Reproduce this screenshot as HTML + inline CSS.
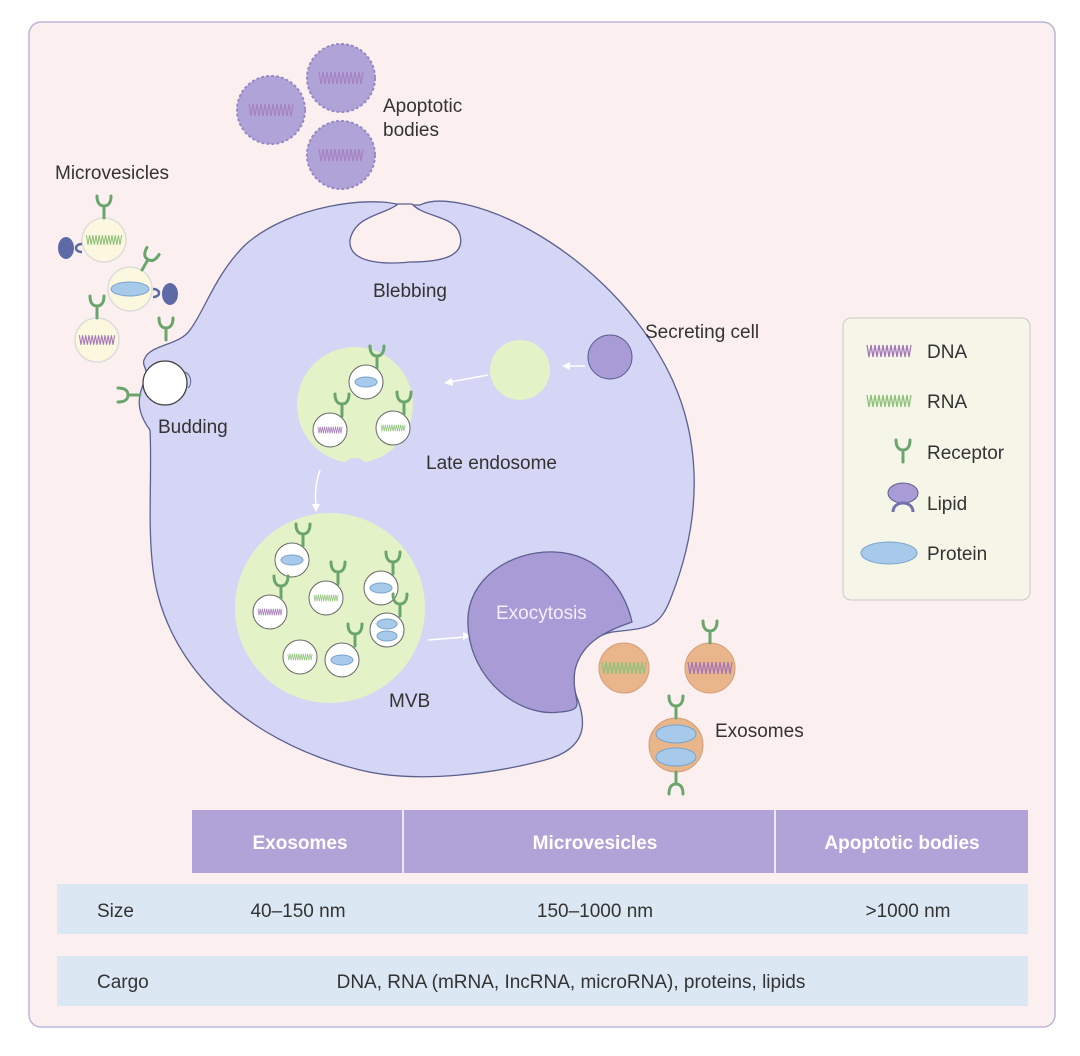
<!DOCTYPE html>
<html><head><meta charset="utf-8"><style>
body{margin:0;background:#fff;}
svg{display:block;font-family:"Liberation Sans",sans-serif;}
</style></head><body>
<svg width="1080" height="1056" viewBox="0 0 1080 1056">
<defs>
<g id="dna"><path d="M-22 -6 l2 12 l2 -12 l2 12 l2 -12 l2 12 l2 -12 l2 12 l2 -12 l2 12 l2 -12 l2 12 l2 -12 l2 12 l2 -12 l2 12 l2 -12 l2 12 l2 -12 l2 12 l2 -12 l2 12 l2 -12" fill="none" stroke="#a377b8" stroke-width="1.3"/></g>
<g id="rna"><path d="M-22 -6 l2 12 l2 -12 l2 12 l2 -12 l2 12 l2 -12 l2 12 l2 -12 l2 12 l2 -12 l2 12 l2 -12 l2 12 l2 -12 l2 12 l2 -12 l2 12 l2 -12 l2 12 l2 -12 l2 12 l2 -12" fill="none" stroke="#8fc27a" stroke-width="1.3"/></g>
<g id="rec"><path d="M0 0 V-12 M0 -12 C-6 -12 -7 -18 -7 -22 M0 -12 C6 -12 7 -18 7 -22" fill="none" stroke="#6aa56e" stroke-width="3" stroke-linecap="round"/></g>
<g id="ves"><circle r="17" fill="#fff" stroke="#666" stroke-width="1"/></g>
</defs>
<rect x="29" y="22" width="1026" height="1005" rx="12" fill="#fbf0ef" stroke="#bcb5d8" stroke-width="1.5"/>

<!-- apoptotic bodies -->
<g fill="#b0a3d8" stroke="#9688c4" stroke-width="2" stroke-dasharray="3 2">
<circle cx="271" cy="110" r="34"/><circle cx="341" cy="78" r="34"/><circle cx="341" cy="155" r="34"/>
</g>
<g opacity="0.7"><use href="#dna" x="271" y="110"/><use href="#dna" x="341" y="78"/><use href="#dna" x="341" y="155"/></g>
<text x="383" y="112" font-size="19" fill="#333">Apoptotic</text>
<text x="383" y="136" font-size="19" fill="#333">bodies</text>

<!-- cell -->
<path d="M400 205 C370 196 290 205 245 245 C215 275 205 310 190 330 C180 345 150 345 145 358 C140 365 150 370 145 380 C138 395 135 410 150 430 C152 470 148 520 152 560 C160 660 240 740 360 770 C420 785 500 772 545 760 C590 748 585 720 578 700 C568 678 575 640 612 632 C650 628 660 628 672 595 C705 510 700 430 665 365 C630 300 575 255 530 230 C485 205 440 195 420 205 Z" fill="#d5d5f5" stroke="#5c608f" stroke-width="1.3"/>
<path d="M398 204 C385 215 355 215 350 240 C348 262 380 265 410 262 C445 262 465 255 460 235 C455 215 425 218 412 204 Z" fill="#fbf0ef" stroke="#5c608f" stroke-width="1.3"/>
<text x="373" y="297" font-size="19" fill="#333">Blebbing</text>

<!-- budding -->
<circle cx="165" cy="383" r="22" fill="#fff" stroke="#444" stroke-width="1.3"/>
<path d="M185 372 C192 375 192 385 188 388" fill="none" stroke="#5c608f"/>
<use href="#rec" x="166" y="340"/>
<g transform="translate(140,395) rotate(-90)"><use href="#rec"/></g>
<text x="158" y="433" font-size="19" fill="#333">Budding</text>

<!-- microvesicles -->
<text x="55" y="179" font-size="19" fill="#333">Microvesicles</text>
<g fill="#fcf7df" stroke="#ddd" stroke-width="1.5">
<circle cx="104" cy="240" r="22"/><circle cx="130" cy="289" r="22"/><circle cx="97" cy="340" r="22"/>
</g>
<use href="#rec" x="104" y="218"/>
<g transform="translate(104,240) scale(0.8)"><use href="#rna"/></g>
<g transform="translate(97,340) scale(0.8)"><use href="#dna"/></g>
<use href="#rec" x="97" y="318"/>
<g transform="translate(142,270) rotate(30)"><use href="#rec"/></g>
<ellipse cx="130" cy="289" rx="19" ry="7" fill="#a7c9ea" stroke="#7aa3cc"/>
<ellipse cx="66" cy="248" rx="8" ry="11" fill="#5d6aa6"/><path d="M82 244 C74 244 74 252 82 252" fill="none" stroke="#5d6aa6" stroke-width="2.5"/>
<ellipse cx="170" cy="294" rx="8" ry="11" fill="#5d6aa6"/><path d="M153 289 C161 289 161 297 153 297" fill="none" stroke="#5d6aa6" stroke-width="2.5"/>

<!-- secreting -->
<circle cx="610" cy="357" r="22" fill="#a99bd6" stroke="#5c608f"/>
<text x="645" y="338" font-size="19" fill="#333">Secreting cell</text>
<circle cx="520" cy="370" r="30" fill="#e4f2c8"/>
<path d="M585 366 H567" stroke="#fff" stroke-width="1.5"/><path d="M562 366 l8 -4 v8 z" fill="#fff"/>
<path d="M488 375 L450 382" stroke="#fff" stroke-width="1.5"/><path d="M444 383 l8 -5 l1 8 z" fill="#fff"/>

<!-- late endosome -->
<circle cx="355" cy="405" r="58" fill="#e4f2c8"/>
<circle cx="355" cy="472" r="14" fill="#d5d5f5"/>
<g><use href="#ves" x="366" y="382"/><use href="#ves" x="330" y="430"/><use href="#ves" x="393" y="428"/></g>
<ellipse cx="366" cy="382" rx="11" ry="5" fill="#a7c9ea" stroke="#7aa3cc"/>
<g transform="translate(330,430) scale(0.55)"><use href="#dna"/></g>
<g transform="translate(393,428) scale(0.55)"><use href="#rna"/></g>
<use href="#rec" x="377" y="368"/>
<use href="#rec" x="342" y="416"/><use href="#rec" x="404" y="414"/>
<text x="426" y="469" font-size="19" fill="#333">Late endosome</text>
<path d="M320 470 C315 485 315 495 316 505" fill="none" stroke="#fff" stroke-width="1.5"/><path d="M316 512 l-4 -8 h8 z" fill="#fff"/>

<!-- MVB -->
<circle cx="330" cy="608" r="95" fill="#e4f2c8"/>
<g>
<use href="#ves" x="292" y="560"/><use href="#ves" x="270" y="612"/><use href="#ves" x="326" y="598"/><use href="#ves" x="381" y="588"/><use href="#ves" x="387" y="630"/><use href="#ves" x="300" y="657"/><use href="#ves" x="342" y="660"/>
</g>
<ellipse cx="292" cy="560" rx="11" ry="5" fill="#a7c9ea" stroke="#7aa3cc"/>
<ellipse cx="381" cy="588" rx="11" ry="5" fill="#a7c9ea" stroke="#7aa3cc"/>
<ellipse cx="387" cy="624" rx="10" ry="5" fill="#a7c9ea" stroke="#7aa3cc"/><ellipse cx="387" cy="636" rx="10" ry="5" fill="#a7c9ea" stroke="#7aa3cc"/>
<ellipse cx="342" cy="660" rx="11" ry="5" fill="#a7c9ea" stroke="#7aa3cc"/>
<g transform="translate(270,612) scale(0.55)"><use href="#dna"/></g>
<g transform="translate(326,598) scale(0.55)"><use href="#rna"/></g>
<g transform="translate(300,657) scale(0.55)"><use href="#rna"/></g>
<use href="#rec" x="303" y="546"/><use href="#rec" x="281" y="598"/><use href="#rec" x="338" y="584"/><use href="#rec" x="393" y="574"/><use href="#rec" x="400" y="616"/><use href="#rec" x="355" y="646"/>
<text x="389" y="707" font-size="19" fill="#333">MVB</text>
<path d="M428 640 L465 637" stroke="#fff" stroke-width="1.5"/><path d="M471 636 l-8 -4 v8 z" fill="#fff"/>

<!-- exocytosis -->
<path d="M468 625 C465 580 510 550 555 552 C600 554 625 590 632 622 C610 630 582 640 575 670 C570 700 590 710 560 712 C520 718 470 680 468 625 Z" fill="#a99bd6" stroke="#5c608f" stroke-width="1.3"/>
<text x="496" y="619" font-size="19" fill="#f4f0ff">Exocytosis</text>

<!-- exosomes -->
<g fill="#e9b68c" stroke="#d39c78"><circle cx="624" cy="668" r="25"/><circle cx="710" cy="668" r="25"/><circle cx="676" cy="745" r="27"/></g>
<use href="#rna" x="624" y="668"/><use href="#dna" x="710" y="668"/>
<use href="#rec" x="710" y="643"/><use href="#rec" x="676" y="718"/>
<g transform="translate(676,772) rotate(180)"><use href="#rec"/></g>
<ellipse cx="676" cy="734" rx="20" ry="9" fill="#a7c9ea" stroke="#7aa3cc"/><ellipse cx="676" cy="757" rx="20" ry="9" fill="#a7c9ea" stroke="#7aa3cc"/>
<text x="715" y="737" font-size="19" fill="#333">Exosomes</text>

<!-- legend -->
<rect x="843" y="318" width="187" height="282" rx="8" fill="#f5f6e8" stroke="#c8c8c8"/>
<use href="#dna" x="889" y="351"/><text x="927" y="358" font-size="19" fill="#333">DNA</text>
<use href="#rna" x="889" y="401"/><text x="927" y="408" font-size="19" fill="#333">RNA</text>
<use href="#rec" x="903" y="462"/><text x="927" y="459" font-size="19" fill="#333">Receptor</text>
<ellipse cx="903" cy="493" rx="15" ry="10" fill="#a99bd6" stroke="#5c608f"/><path d="M893 512 C893 500 913 500 913 512" fill="none" stroke="#7470b0" stroke-width="3"/><text x="927" y="510" font-size="19" fill="#333">Lipid</text>
<ellipse cx="889" cy="553" rx="28" ry="11" fill="#a7c9ea" stroke="#7aa3cc"/><text x="927" y="560" font-size="19" fill="#333">Protein</text>

<!-- table -->
<rect x="192" y="810" width="836" height="63" fill="#b1a3d7"/>
<line x1="403" y1="810" x2="403" y2="873" stroke="#fff" stroke-width="1.5"/>
<line x1="775" y1="810" x2="775" y2="873" stroke="#fff" stroke-width="1.5"/>
<g font-size="19" fill="#fff" font-weight="bold" text-anchor="middle">
<text x="300" y="849">Exosomes</text><text x="595" y="849">Microvesicles</text><text x="902" y="849">Apoptotic bodies</text></g>
<rect x="57" y="884" width="971" height="50" fill="#dbe8f3"/>
<rect x="57" y="956" width="971" height="50" fill="#dbe8f3"/>
<g font-size="19" fill="#333">
<text x="97" y="917">Size</text>
<text x="298" y="917" text-anchor="middle">40–150 nm</text>
<text x="595" y="917" text-anchor="middle">150–1000 nm</text>
<text x="908" y="917" text-anchor="middle">&gt;1000 nm</text>
<text x="97" y="988">Cargo</text>
<text x="571" y="988" text-anchor="middle">DNA, RNA (mRNA, IncRNA, microRNA), proteins, lipids</text>
</g>
</svg>
</body></html>
